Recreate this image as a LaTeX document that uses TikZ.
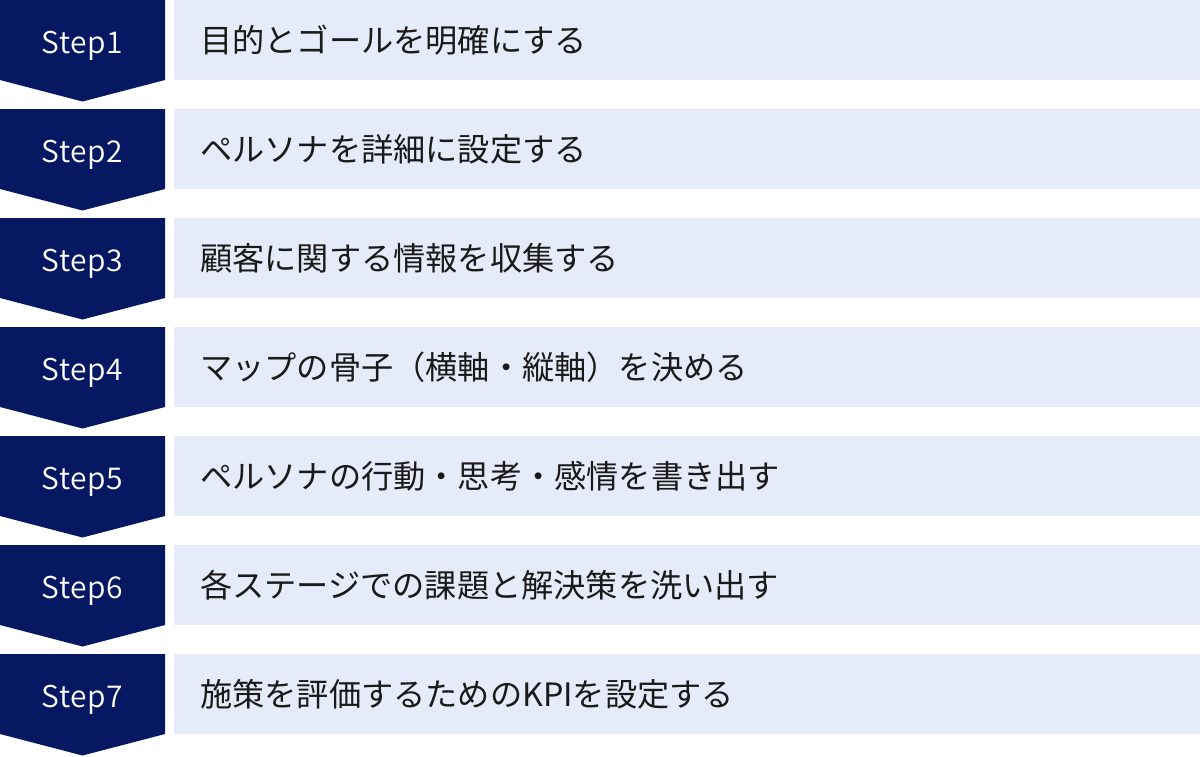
\documentclass[tikz,border=0pt]{standalone}
\usepackage{fontspec}
\setmainfont{Noto Sans CJK JP}
\newfontfamily\jp{Noto Sans CJK JP}
\IfFontExistsTF{Noto Sans CJK JP DemiLight}
  {\newfontfamily\steplight[LetterSpace=2]{Noto Sans CJK JP DemiLight}}
  {\newfontfamily\steplight[LetterSpace=3]{Noto Sans CJK JP}}
\definecolor{navy}{HTML}{061862}
\definecolor{pale}{HTML}{E5EBF8}
\definecolor{ink}{HTML}{1A1A1A}
\tikzset{
  stepshape/.style={fill=navy, draw=none},
  barbox/.style={fill=pale, draw=none},
  steplabel/.style={text=white, font=\steplight\fontsize{30}{30}\selectfont, inner sep=0pt, anchor=base},
  barlabel/.style={text=ink, font=\jp\fontsize{32.2}{32.2}\selectfont, inner sep=0pt, anchor=west},
}
\begin{document}
\begin{tikzpicture}[x=1pt,y=-1pt]
\useasboundingbox (0,0) rectangle (1200,756);
\foreach \i/\t in {1/目的とゴールを明確にする,2/ペルソナを詳細に設定する,3/顧客に関する情報を収集する,4/マップの骨子（横軸・縦軸）を決める,5/ペルソナの行動・思考・感情を書き出す,6/各ステージでの課題と解決策を洗い出す,7/施策を評価するためのKPIを設定する}{
  \pgfmathsetmacro{\yy}{(\i-1)*109}
  \fill[stepshape] (0,\yy) -- (165,\yy) -- (165,\yy+80) -- (82.5,\yy+101.5) -- (0,\yy+80) -- cycle;
  \fill[barbox] (174,\yy) rectangle (1200,\yy+80);
  \node[steplabel] (s\i) at (82.5,\yy+53.3) {Step\i};
  \node[barlabel] (t\i) at (200,\yy+40) {\t};
}
\end{tikzpicture}
\end{document}
